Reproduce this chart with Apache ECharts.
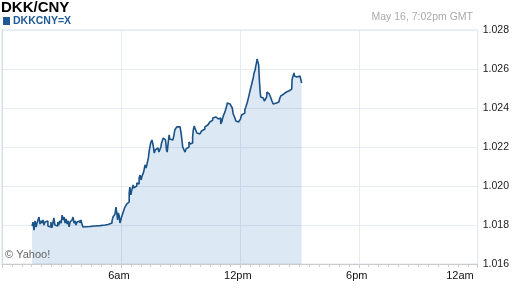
<!DOCTYPE html>
<html>
<head>
<meta charset="utf-8">
<script src="https://cdn.jsdelivr.net/npm/echarts@6/dist/echarts.min.js"></script>
<style>html,body{margin:0;padding:0;background:#fff}#c{width:512px;height:288px}</style>
</head>
<body>
<div id="c"></div>
<script>
// time in minutes after midnight, rate DKK→CNY
var times = [
91,94,97,100,103,106,109,112,115,118,
121,124,127,130,133,136,139,142,145,148,
151,154,157,160,163,166,169,172,175,179,
182,185,188,191,194,197,200,203,206,209,
212,215,218,221,224,227,230,233,236,239,
242,245,
251,266,281,297,312,321,327,333,336,339,
342,345,348,350,352,355,357,359,362,365,
368,372,375,378,382,385,387,390,393,397,
399,402,405,408,412,415,418,421,424,428,
430,433,436,439,443,446,450,454,456,458,
461,464,468,472,475,478,481,483,488,492,
495,498,500,503,506,508,511,514,517,520,
523,529,533,539,542,544,547,551,554,557,
561,566,569,574,577,579,582,584,587,590,
592,596,599,604,609,614,619,623,629,634,
638,643,647,651,655,659,662,666,668,672,
675,680,682,685,687,690,693,695,697,700,
702,705,708,712,716,719,722,725,729,735,
738,742,745,748,750,753,756,759,761,763,
766,769,771,772,775,777,779,781,783,787,
791,794,799,801,802,804,806,809,811,814,
817,821,826,831,835,838,841,844,849,853,
858,861,865,868,871,874,877,878,880,881,
884,885,889,893,896,899,902,903,905,907
];
var rates = [
1.01795,1.01815,1.01774,1.01821,1.01790,1.01810,1.01800,1.01841,1.01805,1.01821,
1.01810,1.01826,1.01800,1.01815,1.01805,1.01821,1.01795,1.01805,1.01790,1.01815,
1.01785,1.01810,1.01836,1.01800,1.01805,1.01795,1.01815,1.01800,1.01821,1.01810,
1.01851,1.01826,1.01841,1.01810,1.01831,1.01805,1.01821,1.01790,1.01815,1.01805,
1.01826,1.01841,1.01810,1.01821,1.01800,1.01815,1.01805,1.01821,1.01810,1.01826,
1.01805,1.01790,
1.01792,1.01795,1.01797,1.01800,1.01803,1.01805,1.01810,1.01821,1.01841,1.01831,
1.01856,1.01892,1.01856,1.01826,1.01862,1.01846,1.01810,1.01821,1.01841,1.01851,
1.01872,1.01892,1.01887,1.01908,1.01918,1.01964,1.01995,1.01954,1.01980,1.02005,
1.01990,1.01980,1.02000,1.02015,1.02010,1.02041,1.02056,1.02031,1.02051,1.02067,
1.02082,1.02108,1.02092,1.02113,1.02144,1.02185,1.02221,1.02236,1.02236,1.02205,
1.02169,1.02185,1.02195,1.02185,1.02174,1.02169,1.02200,1.02221,1.02246,1.02236,
1.02226,1.02185,1.02174,1.02221,1.02262,1.02241,1.02236,1.02236,1.02231,1.02256,
1.02287,1.02303,1.02303,1.02303,1.02272,1.02246,1.02200,1.02185,1.02174,1.02190,
1.02200,1.02226,1.02215,1.02221,1.02251,1.02287,1.02308,1.02297,1.02292,1.02272,
1.02262,1.02267,1.02272,1.02282,1.02292,1.02303,1.02313,1.02318,1.02328,1.02338,
1.02349,1.02354,1.02364,1.02344,1.02349,1.02349,1.02318,1.02333,1.02349,1.02369,
1.02380,1.02410,1.02426,1.02431,1.02421,1.02415,1.02431,1.02426,1.02400,1.02369,
1.02359,1.02349,1.02333,1.02328,1.02338,1.02328,1.02344,1.02364,1.02374,1.02390,
1.02405,1.02426,1.02446,1.02467,1.02482,1.02503,1.02523,1.02533,1.02559,1.02580,
1.02595,1.02621,1.02636,1.02651,1.02641,1.02621,1.02544,1.02492,1.02456,1.02451,
1.02441,1.02436,1.02426,1.02456,1.02482,1.02492,1.02472,1.02477,1.02467,1.02451,
1.02436,1.02421,1.02426,1.02426,1.02431,1.02441,1.02451,1.02462,1.02472,1.02477,
1.02482,1.02482,1.02487,1.02492,1.02497,1.02497,1.02503,1.02544,1.02559,1.02569,
1.02580,1.02564,1.02559,1.02559,1.02561,1.02564,1.02569,1.02559,1.02554,1.02528
];
var xTickValues = [360, 720, 1080, 1440];
var xTickLabels = ['6am', '12pm', '6pm', '12am'];
var yMin = 1.016, yMax = 1.028, yStep = 0.002;

var FONT = '"Liberation Sans", Arial, Helvetica, sans-serif';
var seriesData = times.map(function (t, i) { return [t, rates[i]]; });

var chart = echarts.init(document.getElementById('c'), null, {renderer: 'canvas'});
chart.setOption({
  animation: false,
  backgroundColor: '#ffffff',
  textStyle: {fontFamily: FONT},
  title: {
    text: 'DKK/CNY', left: 1, top: 0, padding: 0,
    textStyle: {fontFamily: FONT, fontSize: 15, fontWeight: 'bold', color: '#000'}
  },
  graphic: [
    {type: 'rect', shape: {x: 3, y: 17, width: 7, height: 8}, style: {fill: '#1f5a96'}},
    {type: 'text', style: {text: 'DKKCNY=X', x: 13, y: 21, textVerticalAlign: 'middle',
      font: 'bold 10.5px ' + FONT, fill: '#1f5a96'}},
    {type: 'text', style: {text: 'May 16, 7:02pm GMT', x: 473, y: 17, textAlign: 'right',
      textVerticalAlign: 'middle', font: '10.5px ' + FONT, fill: '#aaaaaa'}},
    {type: 'text', z: 100, style: {text: '\u00a9 Yahoo!', x: 5, y: 255, textVerticalAlign: 'middle',
      font: '11px ' + FONT, fill: '#666666'}}
  ],
  grid: {left: 2, right: 34, top: 30, bottom: 24, show: true, borderColor: '#dde3ea', borderWidth: 1, backgroundColor: 'transparent'},
  xAxis: {
    type: 'value', min: 0, max: 1440, interval: 360,
    axisLine: {show: true, lineStyle: {color: '#cccccc'}},
    axisTick: {show: true, length: 4, lineStyle: {color: '#cccccc'}},
    minorTick: {show: true, splitNumber: 12, length: 3, lineStyle: {color: '#cccccc'}},
    splitLine: {show: true, lineStyle: {color: '#e6ebf1'}},
    axisLabel: {
      fontSize: 11, color: '#111', margin: 6, fontFamily: FONT,
      showMinLabel: false, alignMaxLabel: 'right', padding: [0, 4, 0, 0],
      formatter: function (v) {
        var i = xTickValues.indexOf(v);
        return i >= 0 ? xTickLabels[i] : '';
      }
    }
  },
  yAxis: {
    type: 'value', position: 'right', min: yMin, max: yMax, interval: yStep,
    axisLine: {show: true, lineStyle: {color: '#d5dbe2'}},
    axisTick: {show: false},
    splitLine: {show: true, lineStyle: {color: '#e6ebf1'}},
    axisLabel: {fontSize: 10.5, color: '#222', margin: 5, fontFamily: FONT,
      formatter: function (v) { return v.toFixed(3); }}
  },
  series: [{
    type: 'line', data: seriesData, step: 'end', showSymbol: false, symbol: 'none',
    lineStyle: {color: '#1b5288', width: 1.6},
    areaStyle: {origin: 'start', color: 'rgba(60,130,190,0.26)'},
    z: 3
  }]
});
</script>
</body>
</html>
